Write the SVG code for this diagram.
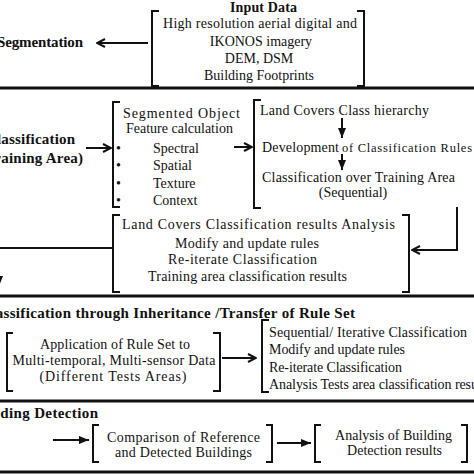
<svg xmlns="http://www.w3.org/2000/svg" width="474" height="474" viewBox="0 0 474 474">
<defs>
<style>
text{font-family:"Liberation Serif","Times New Roman",serif;font-size:14px;fill:#111}
.b{font-weight:bold;font-size:15px}
.sm{font-size:12.5px}
.br{fill:none;stroke:#111;stroke-width:2}
.sep{stroke:#111;stroke-width:3}
.cn{fill:none;stroke:#111;stroke-width:2}
</style>
<marker id="chev" viewBox="0 0 10 10" refX="9" refY="5" markerWidth="10" markerHeight="10" markerUnits="userSpaceOnUse" orient="auto"><path d="M1,1 L9,5 L1,9" fill="none" stroke="#111" stroke-width="2"/></marker>
<marker id="tri" viewBox="0 0 10 10" refX="10" refY="5" markerWidth="10" markerHeight="10" markerUnits="userSpaceOnUse" orient="auto"><path d="M0,1 L10,5 L0,9z" fill="#111"/></marker>
</defs>
<rect width="474" height="474" fill="#fff"/>

<g id="separators">
<line class="sep" x1="0" y1="88" x2="474" y2="88"/>
<line class="sep" x1="0" y1="296" x2="474" y2="296"/>
<line class="sep" x1="0" y1="401" x2="474" y2="401"/>
<line class="sep" x1="0" y1="472" x2="474" y2="472"/>
</g>

<g id="input-data">
<path class="br" d="M159,11 H152 V86 H159"/>
<path class="br" d="M357,11 H364 V86 H357"/>
<text class="b" x="230" y="11.5" textLength="67" style="font-size:14px">Input  Data</text>
<text x="163" y="28" textLength="194">High resolution  aerial digital  and</text>
<text x="261" y="46" text-anchor="middle">IKONOS imagery</text>
<text x="259" y="63" text-anchor="middle">DEM, DSM</text>
<text x="259" y="80" text-anchor="middle">Building  Footprints</text>
</g>

<g id="segmentation">
<text class="b" x="-3" y="47" textLength="86">Segmentation</text>
</g>

<g id="classification-training">
<text class="b" x="-14" y="144" textLength="89">Classification</text>
<text class="b" x="-20" y="163" textLength="103">(Training  Area)</text>
</g>

<g id="segmented-object">
<path class="br" d="M120,102 H113 V207 H120"/>
<text x="123" y="118" textLength="117">Segmented  Object</text>
<text x="126" y="133">Feature calculation</text>
<text x="116" y="153">•</text>
<text x="116" y="170">•</text>
<text x="116" y="188">•</text>
<text x="116" y="205">•</text>
<text x="153" y="153">Spectral</text>
<text x="153" y="170">Spatial</text>
<text x="153" y="188">Texture</text>
<text x="153" y="205">Context</text>
</g>

<g id="land-covers">
<path class="br" d="M261,100 H254 V208 H261"/>
<text x="260" y="115" textLength="169">Land Covers Class hierarchy</text>
<text x="262" y="152"><tspan textLength="77">Development</tspan><tspan class="sm" x="342" textLength="130">of Classification Rules</tspan></text>
<text x="262" y="182" textLength="193">Classification  over Training  Area</text>
<text x="353" y="197" text-anchor="middle">(Sequential)</text>
</g>

<g id="results-analysis">
<path class="br" d="M120,215 H113 V292 H120"/>
<path class="br" d="M402,215 H409 V292 H402"/>
<text x="122" y="229" textLength="273">Land Covers Classification  results  Analysis</text>
<text x="175" y="248" textLength="144">Modify and update rules</text>
<text x="168" y="264" textLength="149">Re-iterate  Classification</text>
<text x="148" y="281" textLength="199">Training  area classification results</text>
</g>

<g id="inheritance-header">
<text class="b" x="-20" y="318" textLength="375">Classification  through  Inheritance  /Transfer  of Rule Set</text>
</g>

<g id="application">
<path class="br" d="M13,333 H7 V391 H13"/>
<path class="br" d="M213,333 H220 V391 H213"/>
<text x="115" y="349" text-anchor="middle" textLength="150">Application  of Rule Set to</text>
<text x="114" y="365" text-anchor="middle" textLength="203">Multi-temporal,  Multi-sensor Data</text>
<text x="113" y="381" text-anchor="middle" textLength="147">(Different Tests Areas)</text>
</g>

<g id="sequential-iterative">
<path class="br" d="M269,320 H262 V392 H269"/>
<text x="269" y="337" textLength="198">Sequential/  Iterative Classification</text>
<text x="269" y="354" textLength="136">Modify  and update rules</text>
<text x="269" y="372" textLength="133">Re-iterate Classification</text>
<text x="269" y="389" textLength="222">Analysis  Tests area classification results</text>
</g>

<g id="building-detection">
<text class="b" x="-28" y="418" textLength="126">Building  Detection</text>
</g>

<g id="comparison">
<path class="br" d="M99,425 H93 V462 H99"/>
<path class="br" d="M266,425 H272 V462 H266"/>
<text x="107" y="442" textLength="153">Comparison of Reference</text>
<text x="115" y="457" textLength="137">and Detected Buildings</text>
</g>

<g id="analysis-building">
<path class="br" d="M321,425 H315 V462 H321"/>
<path class="br" d="M461,425 H467 V462 H461"/>
<text x="335" y="440" textLength="117">Analysis  of Building</text>
<text x="347" y="455" textLength="95">Detection results</text>
</g>

<g id="connectors">
<line class="cn" x1="148" y1="43" x2="97" y2="43" marker-end="url(#chev)"/>
<line class="cn" x1="86" y1="148" x2="111" y2="148" marker-end="url(#chev)"/>
<line class="cn" x1="234" y1="147" x2="252" y2="147" marker-end="url(#chev)"/>
<line class="cn" x1="342" y1="118" x2="342" y2="138" marker-end="url(#tri)"/>
<line class="cn" x1="342" y1="154" x2="342" y2="170" marker-end="url(#tri)"/>
<path class="cn" d="M457,207 V250 H412" marker-end="url(#chev)"/>
<path class="cn" d="M113,248 H-1 V286" marker-end="url(#tri)"/>
<line class="cn" x1="222" y1="358" x2="256" y2="358" marker-end="url(#chev)"/>
<line class="cn" x1="53" y1="440" x2="89" y2="440" marker-end="url(#tri)"/>
<line class="cn" x1="277" y1="443" x2="311" y2="443" marker-end="url(#tri)"/>
</g>
</svg>
